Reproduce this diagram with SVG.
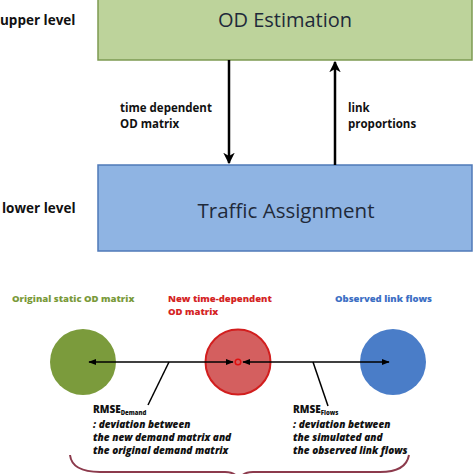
<svg xmlns="http://www.w3.org/2000/svg" width="474" height="474" viewBox="0 0 474 474">
<defs>
<style>
.title{font-family:"Open Sans","Liberation Sans",sans-serif;font-size:20px;fill:#1f2a3a;text-anchor:middle}
.lvl{font-family:"Open Sans","Liberation Sans",sans-serif;font-size:13.5px;font-weight:bold;fill:#111}
.lab{font-family:"Open Sans","Liberation Sans",sans-serif;font-size:11.5px;font-weight:bold;fill:#111}
.cl{font-family:"Open Sans","Liberation Sans",sans-serif;font-size:9.5px;font-weight:800}
.rm{font-family:"Open Sans","Liberation Sans",sans-serif;font-size:10px;font-weight:800;fill:#111}
.it{font-style:italic}
.big{stroke:#000;stroke-width:2.5;fill:none}
.thin{stroke:#000;stroke-width:1.3;fill:none}
</style>
<marker id="ah" viewBox="0 0 10 10" refX="9" refY="5" markerWidth="4.6" markerHeight="4.6" orient="auto-start-reverse" markerUnits="strokeWidth">
<path d="M0,0 L10,5 L0,10 L3,5 z" fill="#000"/>
</marker>
<marker id="sh" viewBox="0 0 10 10" refX="9" refY="5" markerWidth="6" markerHeight="6" orient="auto-start-reverse" markerUnits="strokeWidth">
<path d="M0,1 L10,5 L0,9 z" fill="#000"/>
</marker>
</defs>
<rect width="474" height="474" fill="#fff"/>

<g id="upper-level"><text class="lvl" x="0" y="25">upper level</text></g>
<g id="lower-level"><text class="lvl" x="2" y="213">lower level</text></g>

<g id="od-estimation">
<rect x="98" y="-5" width="374" height="65" fill="#bdd39b" stroke="#7d9a52" stroke-width="1.5"/>
<text class="title" x="285" y="27">OD Estimation</text>
</g>

<g id="traffic-assignment">
<rect x="98" y="165" width="374" height="86" fill="#8fb4e3" stroke="#4f79b8" stroke-width="1.5"/>
<text class="title" x="286" y="218" style="font-size:20.5px">Traffic Assignment</text>
</g>

<g id="connectors">
<line class="big" x1="229" y1="60" x2="229" y2="163" marker-end="url(#ah)"/>
<line class="big" x1="335" y1="165" x2="335" y2="62" marker-end="url(#ah)"/>
<text class="lab" x="120" y="112">time dependent</text>
<text class="lab" x="120" y="128">OD matrix</text>
<text class="lab" x="348" y="112">link</text>
<text class="lab" x="348" y="128">proportions</text>
</g>

<g id="original-static">
<text class="cl" x="12" y="302" fill="#7a9a3a">Original static OD matrix</text>
<circle cx="83" cy="362" r="33" fill="#7b9b3c"/>
</g>

<g id="new-time-dependent">
<text class="cl" x="168" y="302" fill="#d42424">New time-dependent</text>
<text class="cl" x="168" y="315" fill="#d42424">OD matrix</text>
<circle cx="238" cy="362" r="32.5" fill="#d45f5f" stroke="#d21e1e" stroke-width="2"/>
<circle cx="238" cy="362" r="2.8" fill="none" stroke="#e01010" stroke-width="1.5"/>
</g>

<g id="observed-flows">
<text class="cl" x="335" y="302" fill="#3d6fc4">Observed link flows</text>
<circle cx="393" cy="362" r="33" fill="#4a7dc8"/>
</g>

<g id="measure-connectors">
<line class="thin" x1="89" y1="362" x2="233" y2="362" marker-start="url(#sh)" marker-end="url(#sh)"/>
<line class="thin" x1="243" y1="362" x2="389" y2="362" marker-start="url(#sh)" marker-end="url(#sh)"/>
<line x1="169" y1="362" x2="148" y2="405" stroke="#000" stroke-width="1.5"/>
<line x1="313" y1="362" x2="328" y2="406" stroke="#000" stroke-width="1.5"/>
</g>

<g id="rmse-demand">
<text class="rm" x="93" y="413">RMSE<tspan style="font-size:6px" dy="2">Demand</tspan></text>
<text class="rm it" x="93" y="428">: deviation between</text>
<text class="rm it" x="93" y="441">the new demand matrix and</text>
<text class="rm it" x="93" y="454">the original demand matrix</text>
</g>

<g id="rmse-flows">
<text class="rm" x="293" y="413">RMSE<tspan style="font-size:6px" dy="2">Flows</tspan></text>
<text class="rm it" x="293" y="428">: deviation between</text>
<text class="rm it" x="293" y="441">the simulated and</text>
<text class="rm it" x="293" y="454">the observed link flows</text>
</g>

<g id="brace">
<path d="M70,455 Q72,472 100,472 L225,472 Q236,472 239,480 Q242,472 253,472 L380,472 Q406,472 409,455" fill="none" stroke="#8c3a4c" stroke-width="2"/>
</g>
</svg>
